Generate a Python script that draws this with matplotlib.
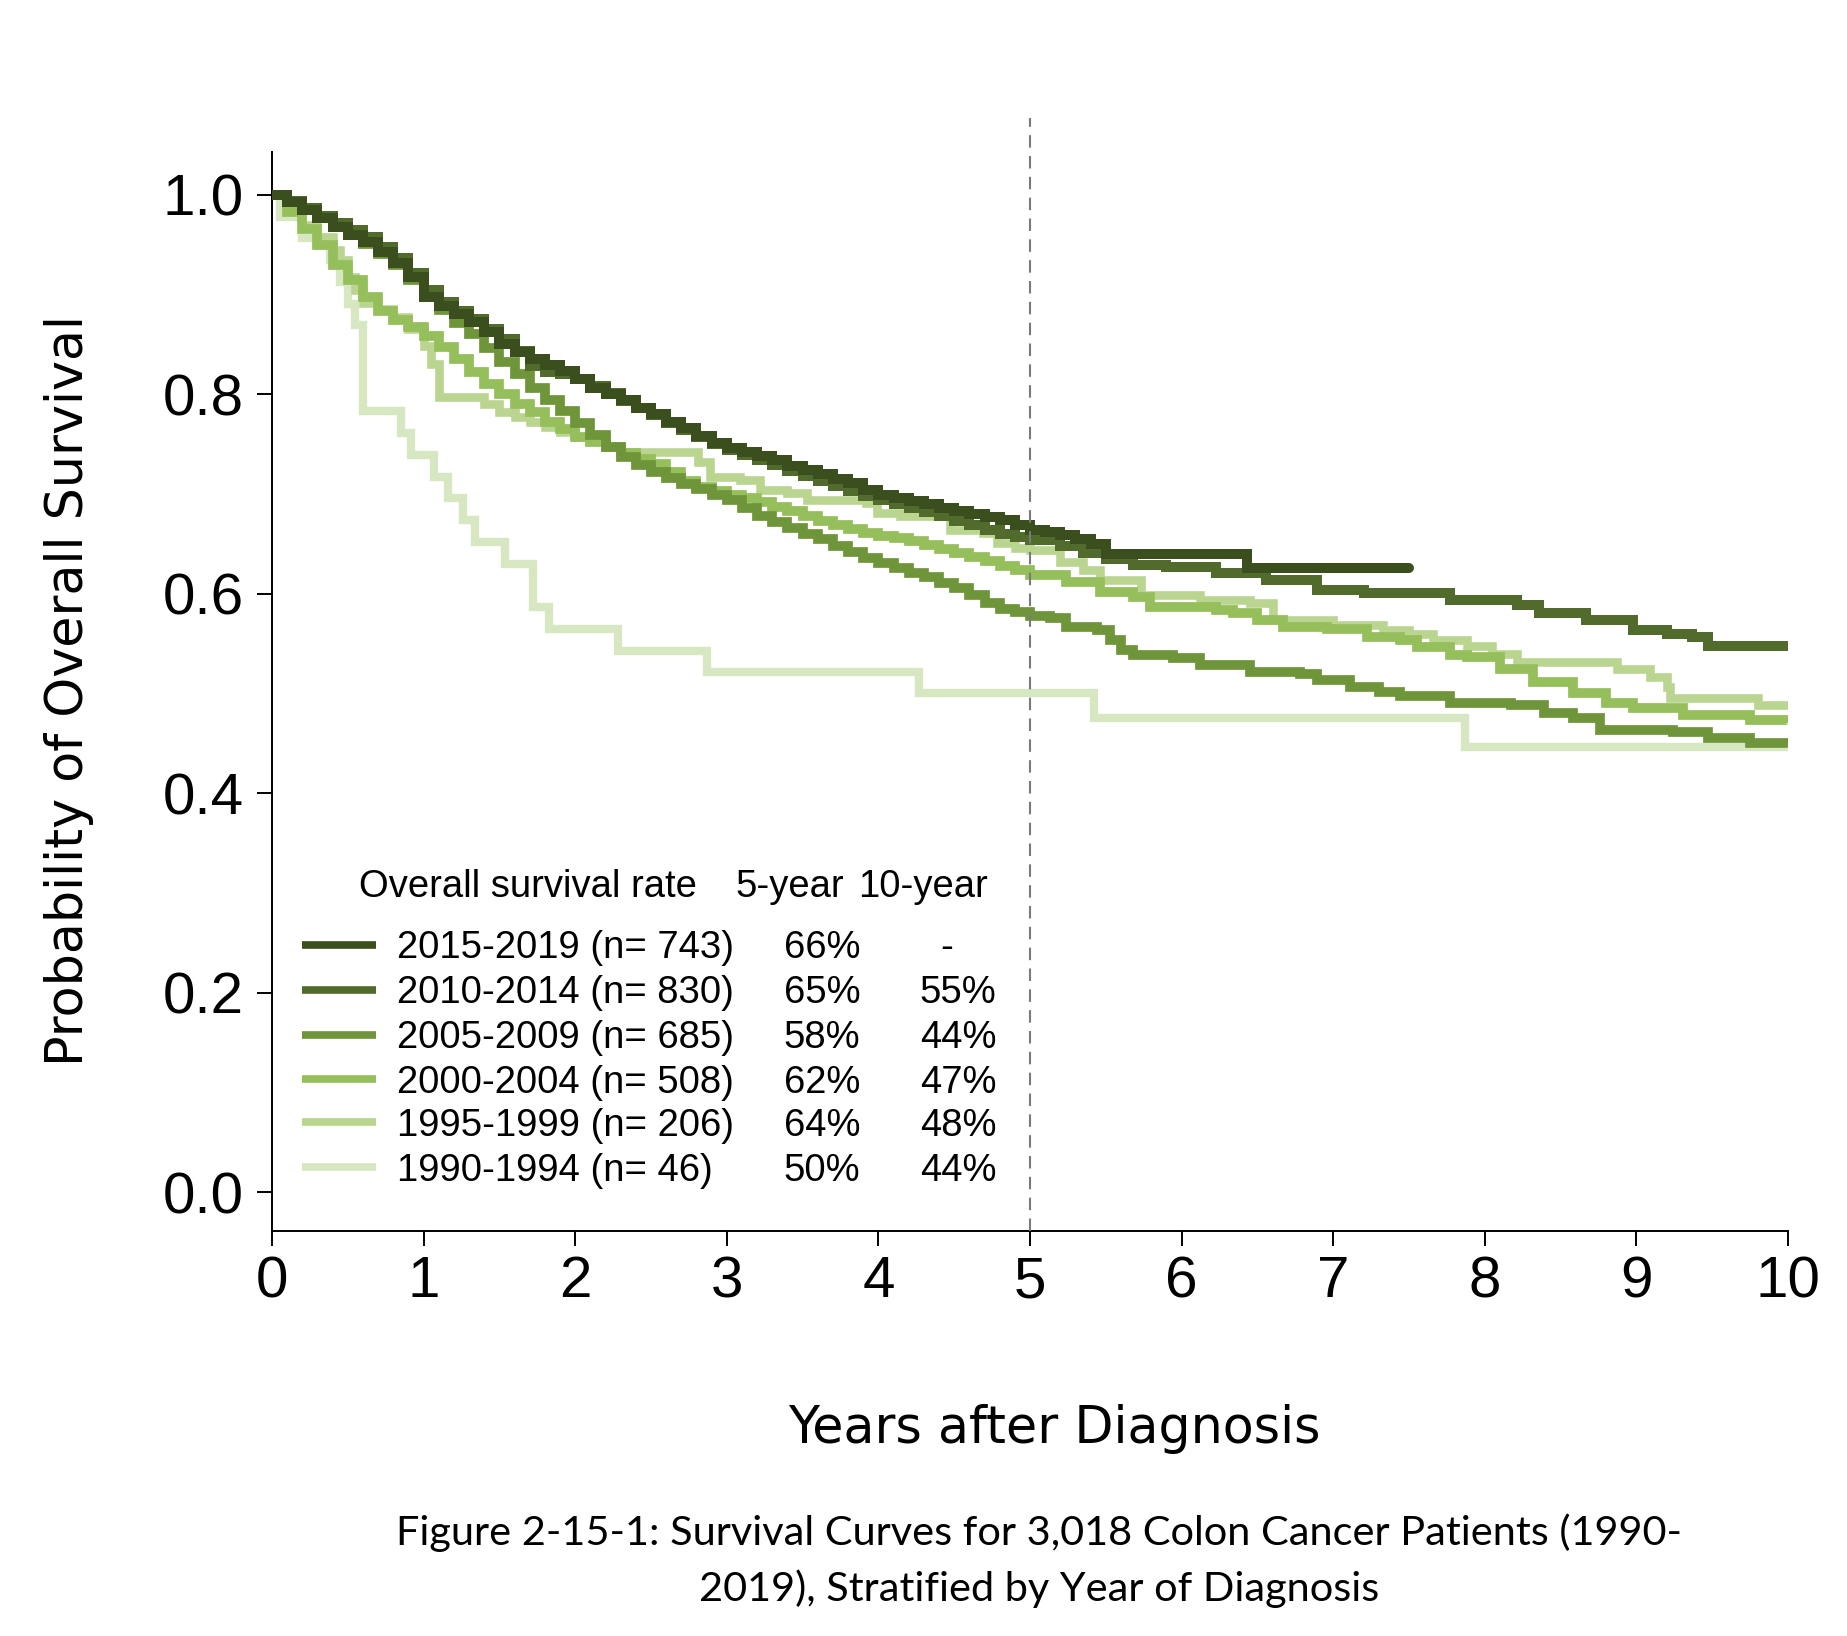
import matplotlib
matplotlib.use("Agg")
import matplotlib.pyplot as plt
from matplotlib import font_manager as fm

# ---------------- data ----------------
groups = ["2015-2019", "2010-2014", "2005-2009", "2000-2004", "1995-1999", "1990-1994"]
n_patients = [743, 830, 685, 508, 206, 46]
rate_5yr = ["66%", "65%", "58%", "62%", "64%", "50%"]
rate_10yr = ["-", "55%", "44%", "47%", "48%", "44%"]
colors = ["#3b4e1d", "#516b2c", "#6f953a", "#95bf5b", "#b9d590", "#d6e7c1"]

xticks = [0, 1, 2, 3, 4, 5, 6, 7, 8, 9, 10]
xtick_labels = ["0", "1", "2", "3", "4", "5", "6", "7", "8", "9", "10"]
yticks = [0.0, 0.2, 0.4, 0.6, 0.8, 1.0]
ytick_labels = ["0.0", "0.2", "0.4", "0.6", "0.8", "1.0"]

# Kaplan-Meier curves: (years, survival probability)
km_2015 = [(0, 1.0), (0.1, 0.993), (0.2, 0.985), (0.3, 0.977), (0.4, 0.968), (0.5, 0.960),
           (0.6, 0.953), (0.7, 0.943), (0.8, 0.932), (0.9, 0.918), (1.0, 0.898), (1.1, 0.889),
           (1.2, 0.881), (1.3, 0.873), (1.4, 0.862), (1.5, 0.850), (1.6, 0.842), (1.7, 0.835),
           (1.8, 0.829), (1.9, 0.823), (2.0, 0.815), (2.1, 0.806), (2.2, 0.800), (2.3, 0.794),
           (2.4, 0.786), (2.5, 0.780), (2.6, 0.772), (2.7, 0.766), (2.8, 0.758), (2.9, 0.751),
           (3.0, 0.746), (3.1, 0.742), (3.2, 0.738), (3.3, 0.734), (3.4, 0.728), (3.5, 0.724),
           (3.6, 0.720), (3.7, 0.715), (3.8, 0.711), (3.9, 0.704), (4.0, 0.699), (4.1, 0.696),
           (4.2, 0.693), (4.3, 0.690), (4.4, 0.686), (4.5, 0.683), (4.6, 0.680), (4.7, 0.677),
           (4.8, 0.674), (4.9, 0.669), (5.0, 0.664), (5.1, 0.662), (5.2, 0.659), (5.3, 0.655),
           (5.4, 0.650), (5.5, 0.640), (6.43, 0.626), (7.5, 0.626)]

km_2010 = [(0, 1.0), (0.1, 0.994), (0.2, 0.987), (0.3, 0.979), (0.4, 0.972), (0.5, 0.965),
           (0.6, 0.958), (0.7, 0.948), (0.8, 0.937), (0.9, 0.922), (1.0, 0.905), (1.1, 0.893),
           (1.2, 0.884), (1.3, 0.876), (1.4, 0.866), (1.5, 0.855), (1.6, 0.843), (1.7, 0.828),
           (1.8, 0.822), (1.9, 0.820), (2.0, 0.815), (2.1, 0.808), (2.2, 0.801), (2.3, 0.793),
           (2.4, 0.786), (2.5, 0.779), (2.6, 0.771), (2.7, 0.764), (2.8, 0.757), (2.9, 0.750),
           (3.0, 0.744), (3.1, 0.739), (3.2, 0.734), (3.3, 0.729), (3.4, 0.723), (3.5, 0.718),
           (3.6, 0.713), (3.7, 0.708), (3.8, 0.703), (3.9, 0.698), (4.0, 0.694), (4.1, 0.690),
           (4.2, 0.686), (4.3, 0.682), (4.4, 0.678), (4.5, 0.673), (4.6, 0.669), (4.7, 0.664),
           (4.8, 0.660), (4.9, 0.657), (5.0, 0.654), (5.2, 0.648), (5.35, 0.641), (5.5, 0.635),
           (5.68, 0.629), (5.9, 0.627), (6.23, 0.621), (6.56, 0.614), (6.89, 0.604), (7.2, 0.601),
           (7.77, 0.594), (8.21, 0.589), (8.36, 0.581), (8.67, 0.574), (8.98, 0.564), (9.2, 0.560),
           (9.37, 0.557), (9.47, 0.548), (10.0, 0.548)]

km_2005 = [(0, 1.0), (0.1, 0.993), (0.2, 0.985), (0.3, 0.977), (0.4, 0.968), (0.5, 0.960),
           (0.6, 0.951), (0.7, 0.941), (0.8, 0.930), (0.9, 0.915), (1.0, 0.898), (1.1, 0.885),
           (1.2, 0.872), (1.3, 0.860), (1.4, 0.846), (1.5, 0.832), (1.6, 0.820), (1.7, 0.806),
           (1.8, 0.794), (1.9, 0.783), (2.0, 0.771), (2.1, 0.759), (2.2, 0.747), (2.3, 0.737),
           (2.4, 0.729), (2.5, 0.722), (2.6, 0.716), (2.7, 0.710), (2.8, 0.705), (2.9, 0.699),
           (3.0, 0.694), (3.1, 0.686), (3.2, 0.678), (3.3, 0.672), (3.4, 0.666), (3.5, 0.660),
           (3.6, 0.655), (3.7, 0.648), (3.8, 0.642), (3.9, 0.636), (4.0, 0.631), (4.1, 0.626),
           (4.2, 0.621), (4.3, 0.617), (4.4, 0.611), (4.5, 0.606), (4.6, 0.599), (4.7, 0.591),
           (4.8, 0.585), (4.9, 0.582), (5.0, 0.578), (5.13, 0.576), (5.24, 0.567), (5.44, 0.564),
           (5.53, 0.554), (5.6, 0.544), (5.68, 0.539), (5.94, 0.536), (6.12, 0.529), (6.45, 0.522),
           (6.78, 0.520), (6.89, 0.514), (7.11, 0.507), (7.3, 0.501), (7.44, 0.497), (7.77, 0.490),
           (8.17, 0.488), (8.39, 0.480), (8.58, 0.475), (8.76, 0.463), (9.24, 0.461), (9.47, 0.455),
           (9.75, 0.450), (10.0, 0.446)]

km_2000 = [(0, 1.0), (0.1, 0.983), (0.2, 0.966), (0.3, 0.950), (0.4, 0.930), (0.5, 0.915),
           (0.6, 0.898), (0.7, 0.884), (0.8, 0.875), (0.9, 0.868), (1.0, 0.858), (1.1, 0.847),
           (1.2, 0.835), (1.3, 0.822), (1.4, 0.810), (1.5, 0.800), (1.6, 0.790), (1.7, 0.782),
           (1.8, 0.772), (1.9, 0.765), (2.0, 0.757), (2.1, 0.752), (2.2, 0.747), (2.3, 0.741),
           (2.4, 0.735), (2.5, 0.730), (2.6, 0.722), (2.7, 0.713), (2.8, 0.707), (2.9, 0.703),
           (3.0, 0.699), (3.1, 0.696), (3.2, 0.692), (3.3, 0.687), (3.4, 0.683), (3.5, 0.678),
           (3.6, 0.673), (3.7, 0.669), (3.8, 0.665), (3.9, 0.661), (4.0, 0.658), (4.1, 0.656),
           (4.2, 0.653), (4.3, 0.649), (4.4, 0.645), (4.5, 0.641), (4.6, 0.637), (4.7, 0.633),
           (4.8, 0.628), (4.9, 0.624), (5.0, 0.619), (5.24, 0.612), (5.46, 0.602), (5.68, 0.597),
           (5.79, 0.587), (6.23, 0.584), (6.34, 0.581), (6.5, 0.574), (6.67, 0.567), (6.96, 0.565),
           (7.22, 0.557), (7.44, 0.554), (7.55, 0.547), (7.77, 0.539), (7.88, 0.537), (8.1, 0.525),
           (8.32, 0.512), (8.58, 0.500), (8.8, 0.490), (8.98, 0.485), (9.31, 0.478), (9.75, 0.473),
           (10.0, 0.470)]

km_1995 = [(0, 1.0), (0.1, 0.985), (0.2, 0.970), (0.3, 0.958), (0.4, 0.945), (0.45, 0.935),
           (0.5, 0.918), (0.55, 0.905), (0.6, 0.892), (0.7, 0.886), (0.8, 0.878), (0.9, 0.866),
           (1.0, 0.848), (1.05, 0.830), (1.1, 0.797), (1.4, 0.790), (1.5, 0.782), (1.6, 0.777),
           (1.7, 0.772), (1.8, 0.767), (1.9, 0.762), (2.0, 0.757), (2.2, 0.748), (2.3, 0.742),
           (2.81, 0.732), (2.89, 0.717), (3.09, 0.714), (3.22, 0.704), (3.4, 0.701), (3.53, 0.694),
           (3.92, 0.691), (3.99, 0.681), (4.14, 0.678), (4.47, 0.664), (4.69, 0.661), (4.78, 0.651),
           (4.9, 0.646), (5.0, 0.644), (5.2, 0.632), (5.35, 0.624), (5.46, 0.614), (5.73, 0.599),
           (6.12, 0.594), (6.45, 0.591), (6.6, 0.574), (7.0, 0.569), (7.33, 0.564), (7.5, 0.560),
           (7.66, 0.554), (7.88, 0.548), (8.05, 0.540), (8.21, 0.532), (8.87, 0.525), (9.09, 0.517),
           (9.2, 0.507), (9.22, 0.495), (9.8, 0.488), (10.0, 0.488)]

km_1990 = [(0, 1.0), (0.05, 0.978), (0.2, 0.957), (0.38, 0.935), (0.45, 0.913), (0.5, 0.891),
           (0.55, 0.870), (0.6, 0.783), (0.85, 0.761), (0.92, 0.739), (1.07, 0.717), (1.16, 0.696),
           (1.26, 0.674), (1.34, 0.652), (1.54, 0.630), (1.72, 0.587), (1.83, 0.565), (2.28, 0.543),
           (2.87, 0.522), (4.27, 0.500), (5.42, 0.475), (7.87, 0.446), (10.0, 0.446)]

curves = [km_2015, km_2010, km_2005, km_2000, km_1995, km_1990]

# ---------------- fonts ----------------
def has_font(name):
    try:
        fm.findfont(fm.FontProperties(family=name), fallback_to_default=False)
        return True
    except Exception:
        return False

if has_font("Liberation Sans Narrow"):
    NARROW = ["Liberation Sans Narrow", "DejaVu Sans"]
    fs_tick, fs_leg = 46, 32.5
else:
    NARROW = ["Liberation Sans", "DejaVu Sans"]
    fs_tick, fs_leg = 42, 27.5

CAPTION = ["Lato", "Open Sans", "DejaVu Sans"] if has_font("Lato") else ["Open Sans", "DejaVu Sans"]

# ---------------- figure ----------------
W, H = 1847, 1636
fig = plt.figure(figsize=(W / 100, H / 100), dpi=100)
fig.patch.set_facecolor("white")

ax = fig.add_axes([272 / W, 1 - 1231 / H, (1788 - 272) / W, (1231 - 152) / H])
ax.set_xlim(0, 10)
ax.set_ylim(-0.039, 1.043)

for side in ("top", "right"):
    ax.spines[side].set_visible(False)
for side in ("left", "bottom"):
    ax.spines[side].set_linewidth(1.4)
    ax.spines[side].set_color("black")

ax.set_xticks(xticks)
ax.set_xticklabels(xtick_labels, family=NARROW, fontsize=fs_tick)
ax.set_yticks(yticks)
ax.set_yticklabels(ytick_labels, family=NARROW, fontsize=fs_tick)
ax.tick_params(axis="both", direction="out", length=10.5, width=1.4, color="black")
ax.tick_params(axis="x", pad=7)
ax.tick_params(axis="y", pad=10)

# curves: lightest first so darker ones sit on top
widths = [7.2, 7.2, 7.0, 7.0, 6.2, 6.0]
for i in range(len(curves) - 1, -1, -1):
    t = [p[0] for p in curves[i]]
    s = [p[1] for p in curves[i]]
    cap = "round" if i == 0 else "butt"
    ax.step(t, s, where="post", color=colors[i], lw=widths[i],
            solid_capstyle=cap, solid_joinstyle="miter", zorder=2 + (6 - i) * 0.1)

# 5-year reference line
ax.plot([5, 5], [-0.039, 1.077], color="#7a7a7a", lw=1.5, ls=(0, (6, 4)),
        clip_on=False, zorder=5)

# legend table
base_off = 0.0137
ax.text(0.574, 0.310 - base_off, "Overall survival rate", family=NARROW, fontsize=fs_leg,
        ha="left", va="baseline")
ax.text(3.055, 0.310 - base_off, "5-year", family=NARROW, fontsize=fs_leg,
        ha="left", va="baseline")
ax.text(3.867, 0.310 - base_off, "10-year", family=NARROW, fontsize=fs_leg,
        ha="left", va="baseline")
row_y = [0.248, 0.203, 0.158, 0.113, 0.070, 0.025]
for i, g in enumerate(groups):
    y = row_y[i]
    ax.plot([0.198, 0.686], [y, y], color=colors[i], lw=5.5, solid_capstyle="butt", zorder=4)
    ax.text(0.823, y - base_off, f"{g} (n= {n_patients[i]})", family=NARROW, fontsize=fs_leg,
            ha="left", va="baseline")
    ax.text(3.627, y - base_off, rate_5yr[i], family=NARROW, fontsize=fs_leg,
            ha="center", va="baseline")
    xr = 4.45 if rate_10yr[i] == "-" else 4.525
    ax.text(xr, y - base_off, rate_10yr[i], family=NARROW, fontsize=fs_leg,
            ha="center", va="baseline")

# axis titles
fig.text(1054 / W, 1 - 1429 / H, "Years after Diagnosis", family=["DejaVu Sans"],
         fontsize=36.5, ha="center", va="center")
fig.text(69 / W, 1 - 691 / H, "Probability of Overall Survival", family=["DejaVu Sans"],
         fontsize=36.5, ha="center", va="center", rotation=90)

# caption
cap1 = fig.text(1039 / W, 1 - 1533 / H,
                "Figure 2-15-1: Survival Curves for 3,018 Colon Cancer Patients (1990-",
                family=CAPTION, fontsize=30, ha="center", va="center")
cap2 = fig.text(1039 / W, 1 - 1589 / H, "2019), Stratified by Year of Diagnosis",
                family=CAPTION, fontsize=30, ha="center", va="center")
fig.canvas.draw()
r = fig.canvas.get_renderer()
wpx = cap1.get_window_extent(renderer=r).width
if wpx > 0:
    fs = 30 * 1284.0 / wpx
    cap1.set_fontsize(fs)
    cap2.set_fontsize(fs)

fig.savefig("out.png", dpi=100, facecolor="white")
